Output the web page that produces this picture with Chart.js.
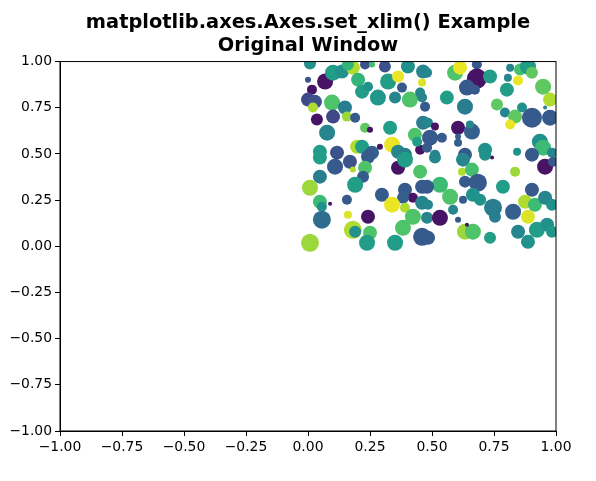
<!DOCTYPE html>
<html lang="en">
<head>
    <meta charset="UTF-8">
    <title>set_xlim Example</title>
    <script src="https://cdn.jsdelivr.net/npm/chart.js"></script>
    <style>
        * { margin: 0; padding: 0; box-sizing: border-box; }
        body { background: #ffffff; width: 596px; height: 481px; overflow: hidden; }
        .chart-box { position: relative; width: 596px; height: 481px; }
    </style>
</head>
<body>
    <div class="chart-box">
        <canvas id="scatterChart"></canvas>
    </div>

    <script>
        // values
        const xValues = [
            0.008, 0.000, 0.069, 0.101, 0.137, 0.181, 0.161, 0.230, 0.258, 0.202,
            0.310, 0.323, 0.363, 0.379, 0.403, 0.464, 0.460, 0.016, 0.000, 0.028,
            0.020, 0.097, 0.149, 0.157, 0.101, 0.036, 0.190, 0.218, 0.242, 0.282,
            0.351, 0.411, 0.452, 0.472, 0.460, 0.230, 0.250, 0.077, 0.331, 0.464,
            0.431, 0.048, 0.117, 0.198, 0.218, 0.258, 0.290, 0.339, 0.363, 0.391,
            0.452, 0.480, 0.440, 0.480, 0.593, 0.613, 0.681, 0.681, 0.641, 0.673,
            0.734, 0.815, 0.855, 0.887, 0.903, 0.806, 0.847, 0.802, 0.948, 0.976,
            0.560, 0.633, 0.762, 0.794, 0.835, 0.863, 0.903, 0.976, 0.956, 0.815,
            0.484, 0.512, 0.492, 0.540, 0.605, 0.661, 0.605, 0.605, 0.653, 0.714,
            0.633, 0.843, 0.935, 0.948, 0.903, 0.984, 0.512, 0.048, 0.109, 0.169,
            0.242, 0.230, 0.181, 0.222, 0.363, 0.391, 0.452, 0.460, 0.048, 0.008,
            0.190, 0.298, 0.391, 0.423, 0.383, 0.460, 0.339, 0.391, 0.423, 0.048,
            0.056, 0.089, 0.157, 0.056, 0.161, 0.242, 0.181, 0.190, 0.250, 0.238,
            0.383, 0.351, 0.460, 0.480, 0.008, 0.512, 0.625, 0.621, 0.661, 0.685,
            0.633, 0.742, 0.714, 0.532, 0.480, 0.573, 0.484, 0.585, 0.625, 0.665,
            0.694, 0.786, 0.835, 0.903, 0.956, 0.988, 0.875, 0.915, 0.956, 0.984,
            0.746, 0.827, 0.754, 0.532, 0.605, 0.633, 0.665, 0.641, 0.734, 0.887,
            0.847, 0.923, 0.964, 0.984, 0.887, 0.484
        ];
        const yValues = [
            0.990, 0.902, 0.892, 0.940, 0.946, 0.967, 0.984, 0.984, 0.984, 0.902,
            0.973, 0.892, 0.919, 0.859, 0.973, 0.946, 0.886, 0.848, 0.794, 0.783,
            0.751, 0.778, 0.751, 0.702, 0.702, 0.686, 0.696, 0.837, 0.864, 0.805,
            0.805, 0.794, 0.832, 0.756, 0.805, 0.642, 0.631, 0.615, 0.642, 0.669,
            0.604, 0.512, 0.507, 0.539, 0.539, 0.507, 0.539, 0.550, 0.512, 0.496,
            0.523, 0.534, 0.566, 0.940, 0.940, 0.967, 0.984, 0.908, 0.859, 0.848,
            0.919, 0.967, 0.957, 0.973, 0.940, 0.913, 0.897, 0.848, 0.864, 0.794,
            0.805, 0.756, 0.767, 0.724, 0.702, 0.751, 0.696, 0.696, 0.751, 0.659,
            0.669, 0.648, 0.588, 0.588, 0.642, 0.621, 0.594, 0.561, 0.659, 0.523,
            0.496, 0.512, 0.566, 0.534, 0.496, 0.507, 0.496, 0.480, 0.431, 0.458,
            0.485, 0.425, 0.415, 0.377, 0.425, 0.469, 0.404, 0.322, 0.377, 0.317,
            0.333, 0.279, 0.306, 0.263, 0.263, 0.236, 0.225, 0.209, 0.160, 0.241,
            0.214, 0.230, 0.252, 0.144, 0.171, 0.160, 0.089, 0.079, 0.073, 0.019,
            0.100, 0.019, 0.051, 0.154, 0.019, 0.480, 0.469, 0.404, 0.415, 0.344,
            0.350, 0.480, 0.496, 0.333, 0.322, 0.268, 0.225, 0.198, 0.252, 0.279,
            0.252, 0.322, 0.404, 0.306, 0.431, 0.458, 0.241, 0.225, 0.263, 0.225,
            0.209, 0.187, 0.160, 0.154, 0.144, 0.079, 0.079, 0.117, 0.046, 0.160,
            0.079, 0.089, 0.117, 0.079, 0.024, 0.046
        ];
        // bubble radius in pixels
        const bubbleSizes = [
            6, 3, 8, 8, 7, 7, 6, 5, 3, 7,
            6, 8, 6, 5, 7, 7, 4, 5, 7, 7,
            5, 8, 7, 5, 7, 6, 5, 7, 5, 8,
            6, 8, 5, 5, 5, 5, 3, 8, 7, 7,
            7, 7, 7, 7, 7, 7, 3, 8, 7, 7,
            5, 5, 5, 5, 8, 7, 5, 10, 8, 5,
            7, 4, 6, 8, 6, 4, 5, 7, 8, 7,
            7, 8, 6, 5, 7, 5, 10, 8, 2, 5,
            5, 4, 8, 5, 7, 8, 3, 4, 4, 7,
            7, 4, 8, 8, 7, 5, 5, 7, 8, 7,
            7, 7, 3, 6, 7, 8, 7, 7, 7, 8,
            8, 7, 7, 5, 6, 7, 8, 5, 8, 7,
            5, 2, 5, 9, 4, 7, 9, 6, 7, 8,
            8, 8, 9, 6, 9, 6, 7, 4, 7, 9,
            6, 2, 6, 8, 7, 8, 5, 5, 4, 7,
            6, 7, 5, 7, 8, 5, 7, 7, 7, 6,
            9, 8, 6, 8, 3, 8, 8, 2, 6, 7,
            7, 8, 7, 6, 7, 7
        ];
        // colour value, 0 = dark purple ... 1 = yellow
        const colorValues = [
            0.50, 0.25, 0.05, 0.55, 0.50, 0.88, 0.65, 0.25, 0.70, 0.65,
            0.25, 0.55, 0.97, 0.28, 0.50, 0.45, 0.95, 0.05, 0.22, 0.25,
            0.88, 0.72, 0.42, 0.85, 0.22, 0.05, 0.28, 0.55, 0.50, 0.52,
            0.45, 0.72, 0.45, 0.28, 0.45, 0.75, 0.05, 0.45, 0.55, 0.42,
            0.72, 0.55, 0.25, 0.88, 0.55, 0.30, 0.05, 0.97, 0.45, 0.42,
            0.05, 0.28, 0.55, 0.45, 0.72, 0.97, 0.28, 0.05, 0.28, 0.28,
            0.55, 0.45, 0.70, 0.55, 0.75, 0.45, 0.97, 0.55, 0.75, 0.88,
            0.55, 0.42, 0.75, 0.45, 0.75, 0.50, 0.28, 0.28, 0.45, 0.97,
            0.45, 0.05, 0.28, 0.28, 0.05, 0.30, 0.30, 0.30, 0.45, 0.50,
            0.28, 0.50, 0.50, 0.68, 0.28, 0.45, 0.45, 0.55, 0.28, 0.25,
            0.28, 0.72, 0.88, 0.28, 0.05, 0.55, 0.72, 0.28, 0.42, 0.85,
            0.55, 0.28, 0.28, 0.05, 0.30, 0.45, 0.97, 0.88, 0.72, 0.68,
            0.50, 0.05, 0.28, 0.35, 0.95, 0.05, 0.88, 0.50, 0.72, 0.55,
            0.72, 0.55, 0.28, 0.45, 0.85, 0.45, 0.45, 0.88, 0.70, 0.28,
            0.28, 0.05, 0.50, 0.68, 0.28, 0.72, 0.45, 0.45, 0.28, 0.50,
            0.50, 0.55, 0.85, 0.28, 0.05, 0.28, 0.88, 0.68, 0.45, 0.50,
            0.42, 0.30, 0.42, 0.05, 0.28, 0.85, 0.72, 0.05, 0.55, 0.95,
            0.45, 0.55, 0.50, 0.52, 0.50, 0.28
        ];
        const tickValues = [-1, -0.75, -0.5, -0.25, 0, 0.25, 0.5, 0.75, 1];

        // viridis colormap anchors
        const viridis = [
            [68, 1, 84], [72, 36, 117], [65, 68, 135], [53, 95, 141], [42, 120, 142],
            [33, 145, 140], [34, 168, 132], [68, 191, 112], [122, 209, 81], [189, 223, 38],
            [253, 231, 37]
        ];

        function viridisColor(v) {
            const t = Math.min(Math.max(v, 0), 1) * (viridis.length - 1);
            const i = Math.min(Math.floor(t), viridis.length - 2);
            const f = t - i;
            const a = viridis[i], b = viridis[i + 1];
            const c = [0, 1, 2].map(k => Math.round(a[k] + (b[k] - a[k]) * f));
            return 'rgb(' + c.join(',') + ')';
        }

        function fmtTick(v) {
            return v.toFixed(2).replace('-', '\u2212');
        }

        // black box around the plot area
        const frame = {
            id: 'frame',
            afterDatasetsDraw(chart) {
                const a = chart.chartArea;
                const ctx = chart.ctx;
                ctx.save();
                ctx.strokeStyle = '#000';
                ctx.lineWidth = 1;
                ctx.strokeRect(a.left, a.top, a.right - a.left, a.bottom - a.top);
                ctx.restore();
            }
        };

        const points = xValues.map((x, i) => ({ x: x, y: yValues[i], r: bubbleSizes[i] }));

        const axisOpts = {
            type: 'linear',
            min: -1,
            max: 1,
            grid: { display: true, drawOnChartArea: false, drawTicks: true, tickLength: 5, color: '#000' },
            border: { display: true, color: '#000', width: 1 },
            afterBuildTicks: s => { s.ticks = tickValues.map(v => ({ value: v })); },
            ticks: {
                color: '#000',
                font: { family: 'DejaVu Sans', size: 13.9 },
                padding: 3,
                maxRotation: 0,
                autoSkip: false,
                callback: v => fmtTick(v)
            }
        };

        new Chart(document.getElementById('scatterChart'), {
            type: 'bubble',
            data: {
                datasets: [{
                    data: points,
                    backgroundColor: colorValues.map(viridisColor),
                    borderWidth: 0,
                    hoverBorderWidth: 0,
                    clip: 0
                }]
            },
            options: {
                responsive: true,
                maintainAspectRatio: false,
                animation: false,
                layout: { padding: { left: 0, right: 40, top: 0, bottom: 0 } },
                plugins: {
                    legend: { display: false },
                    tooltip: { enabled: false },
                    title: {
                        display: true,
                        fullSize: false,
                        text: ['matplotlib.axes.Axes.set_xlim() Example', 'Original Window'],
                        color: '#000',
                        font: { family: 'DejaVu Sans', size: 19.4, weight: 'bold', lineHeight: 1.2 },
                        padding: { top: 11, bottom: 4 }
                    }
                },
                scales: {
                    x: Object.assign({}, axisOpts, {
                        position: 'bottom',
                        afterFit: s => { s.height = 50; }
                    }),
                    y: Object.assign({}, axisOpts, {
                        position: 'left',
                        afterFit: s => { s.width = 60; }
                    })
                }
            },
            plugins: [frame]
        });
    </script>
</body>
</html>
